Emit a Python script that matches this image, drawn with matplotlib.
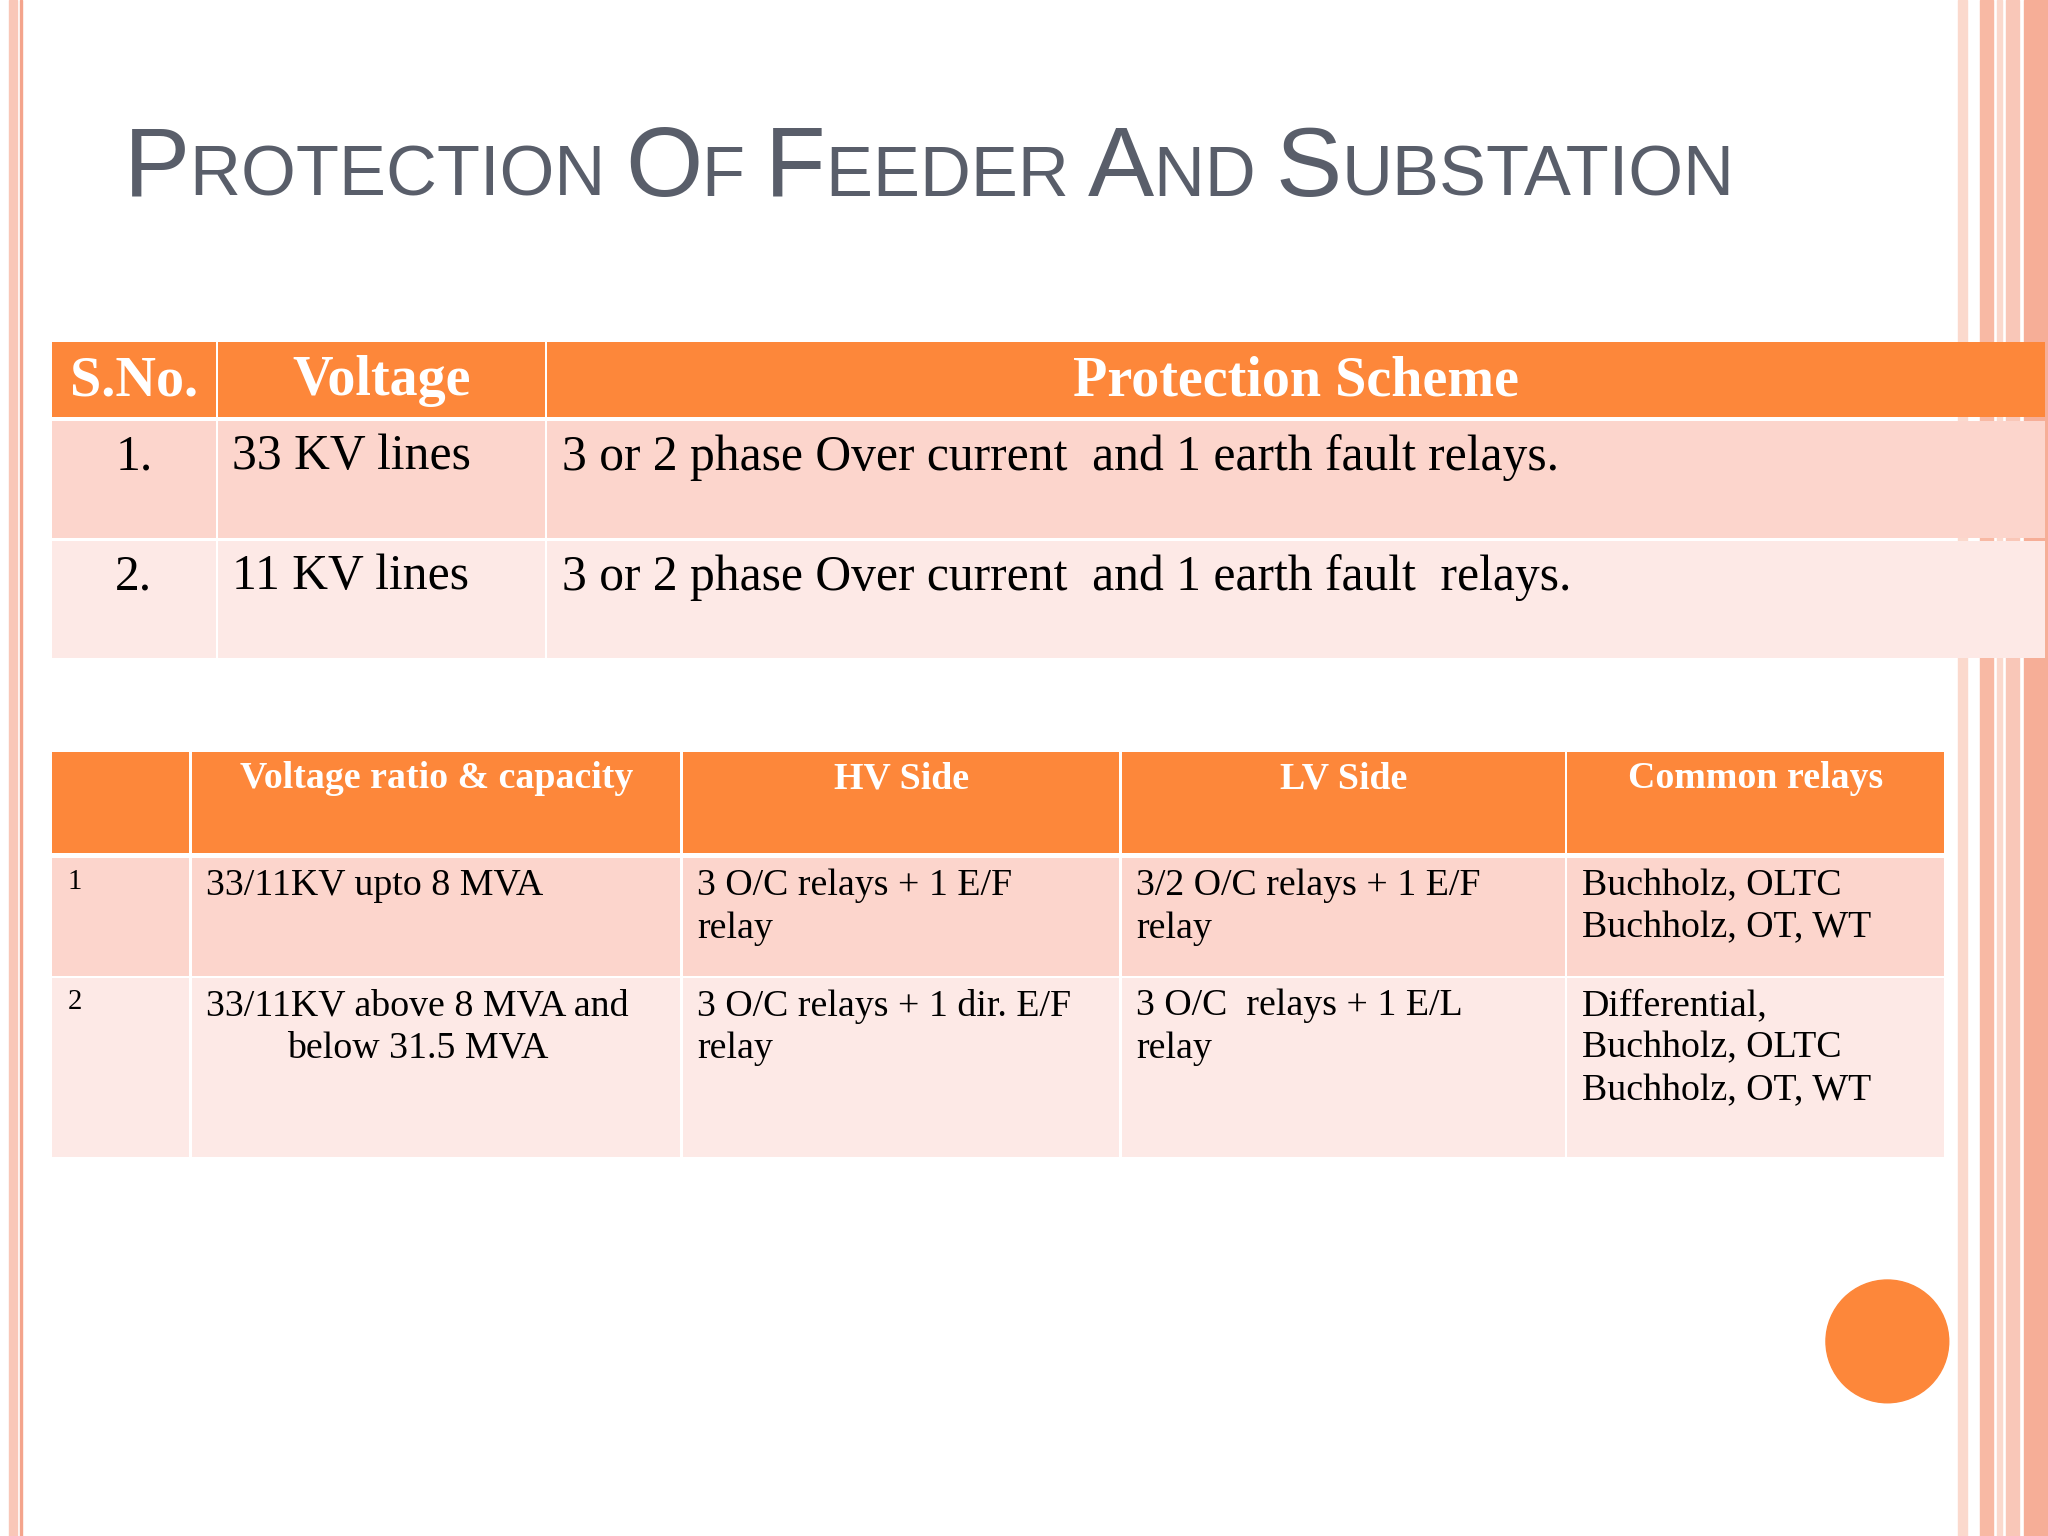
import matplotlib.pyplot as plt
from matplotlib.patches import Rectangle, Circle

W, H = 1568, 1176
S = 2048 / W
PT = S * 0.72  # display px -> points

ORANGE = '#fd873a'
PINK1 = '#fcd5cc'
PINK2 = '#fde9e6'
GRAY = '#595e6a'

title_parts = [('P', True), ('ROTECTION ', False), ('O', True), ('F ', False),
               ('F', True), ('EEDER ', False), ('A', True), ('ND ', False),
               ('S', True), ('UBSTATION', False)]

t1_header = ['S.No.', 'Voltage', 'Protection Scheme']
t1_rows = [['1.', '33 KV lines', '3 or 2 phase Over current  and 1 earth fault relays.'],
           ['2.', '11 KV lines', '3 or 2 phase Over current  and 1 earth fault  relays.']]

t2_header = ['', 'Voltage ratio & capacity', 'HV Side', 'LV Side', 'Common relays']
t2_rows = [['1', '33/11KV upto 8 MVA', '3 O/C relays + 1 E/F\nrelay',
            '3/2 O/C relays + 1 E/F\nrelay', 'Buchholz, OLTC\nBuchholz, OT, WT'],
           ['2', '33/11KV above 8 MVA and\nbelow 31.5 MVA', '3 O/C relays + 1 dir. E/F\nrelay',
            '3 O/C  relays + 1 E/L\nrelay', 'Differential,\nBuchholz, OLTC\nBuchholz, OT, WT']]

fig = plt.figure(figsize=(20.48, 15.36), dpi=100)
ax = fig.add_axes([0, 0, 1, 1])
ax.set_xlim(0, W)
ax.set_ylim(H, 0)
ax.axis('off')

# slide borders
ax.add_patch(Rectangle((7, 0), 6, H, color='#f9c7b8'))
ax.add_patch(Rectangle((15, 0), 2, H, color='#f4a48c'))
for x0, w, c in [(1499, 7, '#fbd9cd'), (1516, 10, '#f8b9a4'), (1529, 4, '#fbd9cd'),
                 (1536, 10, '#f9c7b8'), (1550, 18, '#f6ae97')]:
    ax.add_patch(Rectangle((x0, 0), w, H, color=c, zorder=0))

# title in small caps
fig.canvas.draw()
r = fig.canvas.get_renderer()
x = 95
for txt, big in title_parts:
    t = ax.text(x, 150, txt, fontsize=(72 if big else 52) * PT / 0.94 * 0.94 / PT * PT / PT * PT / PT * (1) if False else (76 if big else 54) * PT,
                color=GRAY, family='Liberation Sans', va='baseline', ha='left')
    bb = t.get_window_extent(r)
    x += bb.width / S

def cell(x0, y0, w, h, c):
    ax.add_patch(Rectangle((x0, y0), w, h, color=c, lw=0))

# table 1
cols1 = [(40, 125), (167, 250), (419, 1147)]
for (x0, w), lab in zip(cols1, t1_header):
    cell(x0, 262, w, 57, ORANGE)
    ax.text(x0 + w / 2, 292, lab, fontsize=43 * PT, color='white', weight='bold',
            family='Liberation Serif', ha='center', va='center')
for i, row in enumerate(t1_rows):
    y0 = 322 + i * 92
    for j, ((x0, w), lab) in enumerate(zip(cols1, row)):
        cell(x0, y0, w, 90, PINK1 if i == 0 else PINK2)
        ax.text(x0 + w / 2 if j == 0 else x0 + 11, y0 + 10, lab, fontsize=38 * PT,
                family='Liberation Serif', ha='center' if j == 0 else 'left', va='top')

# table 2
cols2 = [(40, 105), (147, 374), (523, 334), (859, 339), (1200, 288)]
for (x0, w), lab in zip(cols2, t2_header):
    cell(x0, 576, w, 77, ORANGE)
    ax.text(x0 + w / 2, 583, lab, fontsize=29 * PT, color='white', weight='bold',
            family='Liberation Serif', ha='center', va='top')
heights = [90, 137]
y0 = 657
for i, row in enumerate(t2_rows):
    for j, ((x0, w), lab) in enumerate(zip(cols2, row)):
        cell(x0, y0, w, heights[i], PINK1 if i == 0 else PINK2)
        if j == 0:
            ax.text(x0 + 12, y0 + 8, lab, fontsize=22 * PT, family='Liberation Serif',
                    ha='left', va='top')
        else:
            ax.text(x0 + 11, y0 + 8, lab, fontsize=29 * PT, family='Liberation Serif',
                    ha='left', va='top', linespacing=1.3,
                    multialignment='center' if j == 1 else 'left')
    y0 += heights[i] + 2

ax.add_patch(Circle((1445, 1027), 47, color=ORANGE))

fig.savefig('out.png', dpi=100)
